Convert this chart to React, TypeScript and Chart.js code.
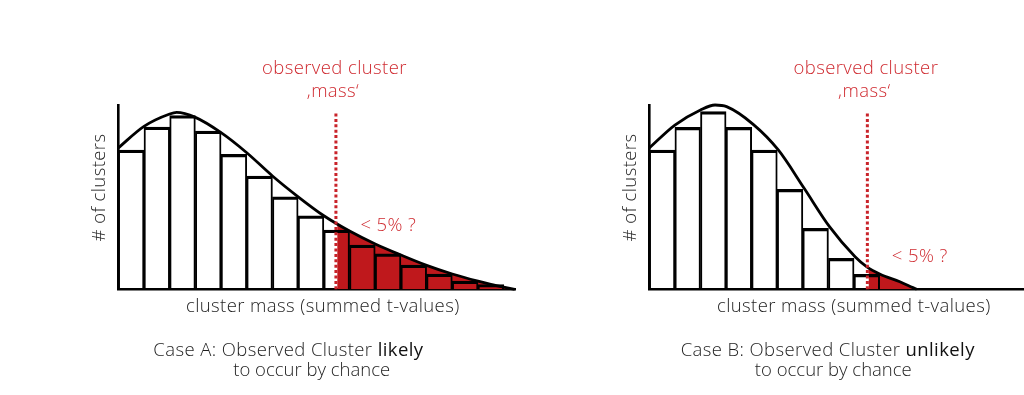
import React, { useEffect, useRef } from 'react';
import { Chart, registerables } from 'chart.js';

Chart.register(...registerables);

// ---------- Data ----------
// Panel A – histogram bar heights (bins of width 1, starting at 0)
const barsA = [75.6, 88.0, 94.2, 85.9, 73.3, 61.5, 50.2, 39.9, 32.2, 24.0, 19.2, 13.2, 8.3, 4.5, 2.5];
// Panel A – smooth density curve
const curveAX = [0, 1, 2, 2.27, 3, 4, 5, 6, 7, 8, 9, 10, 11, 12, 13, 14, 14.5, 15, 15.43];
const curveAY = [76.7, 88.4, 95.1, 96.0, 93.3, 85.0, 74.1, 61.5, 50.2, 39.9, 31.6, 24.6, 18.6, 13.0, 8.3, 4.4, 2.7, 1.2, 0];
const thresholdA = 8.47;

// Panel B
const barsB = [75.6, 87.9, 96.4, 87.9, 75.6, 54.3, 33.1, 16.8, 8.1];
const curveBX = [0, 1, 2, 2.57, 3.02, 4.06, 5.04, 6.05, 7.04, 8.04, 8.5, 9.02, 9.79, 10.3, 10.45];
const curveBY = [76.7, 89.1, 97.3, 100, 99.1, 89.5, 75.6, 54.8, 34.0, 17.7, 12.2, 8.2, 4.1, 0.9, 0];
const thresholdB = 8.52;

const thresholdTop = 96.4;

// Texts
const yTitle = '# of clusters';
const xTitle = 'cluster mass (summed t-values)';
const obsLine1 = 'observed cluster';
const obsLine2 = '\u201Amass\u2018';
const pctLabel = '< 5% ?';
const captionA = ['Case A: Observed Cluster ', 'likely', 'to occur by chance'];
const captionB = ['Case B: Observed Cluster ', 'unlikely', 'to occur by chance'];

// ---------- Styles ----------
const FONT = '"Open Sans", "Helvetica Neue", "Liberation Sans", sans-serif';
const FS = 18.5;
const LS = '0.4px';
const RED_FILL = '#bf181c';
const RED_DOT = '#c9232a';
const RED_TEXT = '#cf2a30';
const TEXT = '#1e1e1e';

type PanelCfg = {
  left: number;
  width: number;
  padRight: number;
  xMax: number;
  bars: number[];
  cx: number[];
  cy: number[];
  threshold: number;
  pctBaseline: number;
  caption: string[];
  cap1X: number;
  cap2Center: number;
};

const panels: PanelCfg[] = [
  {
    left: 0, width: 531, padRight: 16, xMax: 15.44,
    bars: barsA, cx: curveAX, cy: curveAY, threshold: thresholdA,
    pctBaseline: 230.5, caption: captionA, cap1X: 153.3, cap2Center: 311.7,
  },
  {
    left: 531, width: 493, padRight: 0, xMax: 14.64,
    bars: barsB, cx: curveBX, cy: curveBY, threshold: thresholdB,
    pctBaseline: 261.7, caption: captionB, cap1X: 149.7, cap2Center: 302.3,
  },
];

function setFont(ctx: CanvasRenderingContext2D, size: number, weight: number, ls: string = LS) {
  ctx.font = `${weight} ${size}px ${FONT}`;
  (ctx as any).letterSpacing = ls;
}

function makePlugin(cfg: PanelCfg) {
  return {
    id: 'panelDecor',
    beforeDatasetsDraw(chart: any) {
      const meta = chart.getDatasetMeta(1);
      const line = meta && meta.dataset;
      if (!line) return;
      const ctx: CanvasRenderingContext2D = chart.ctx;
      const xs = chart.scales.x;
      const ys = chart.scales.y;
      line.updateControlPoints(chart.chartArea, 'x');
      const thrPx = xs.getPixelForValue(cfg.threshold);
      const base = ys.getPixelForValue(0);
      ctx.save();
      ctx.beginPath();
      ctx.rect(thrPx + 1.4, 0, chart.width, base);
      ctx.clip();
      ctx.beginPath();
      line.path(ctx);
      const pts = line.points;
      ctx.lineTo(pts[pts.length - 1].x, base);
      ctx.lineTo(pts[0].x, base);
      ctx.closePath();
      ctx.fillStyle = RED_FILL;
      ctx.fill();
      ctx.restore();
    },
    afterDraw(chart: any) {
      const ctx: CanvasRenderingContext2D = chart.ctx;
      const xs = chart.scales.x;
      const area = chart.chartArea;
      const thrPx = xs.getPixelForValue(cfg.threshold);
      ctx.save();
      ctx.textBaseline = 'alphabetic';

      // red annotation
      setFont(ctx, FS, 300);
      ctx.fillStyle = RED_TEXT;
      ctx.textAlign = 'center';
      ctx.fillText(obsLine1, thrPx - 1.5, 74);
      ctx.fillText(obsLine2, thrPx - 3, 96.5);
      ctx.textAlign = 'left';
      ctx.fillText(pctLabel, thrPx + 24.5, cfg.pctBaseline);

      // axis titles
      ctx.fillStyle = TEXT;
      ctx.textAlign = 'center';
      ctx.fillText(xTitle, area.left + 204.5, 312);
      ctx.save();
      ctx.translate(area.left - 13.5, 187.5);
      ctx.rotate(-Math.PI / 2);
      ctx.fillText(yTitle, 0, 0);
      ctx.restore();

      // caption
      ctx.textAlign = 'left';
      setFont(ctx, FS, 300);
      ctx.fillText(cfg.caption[0], cfg.cap1X, 356);
      const w = ctx.measureText(cfg.caption[0]).width;
      setFont(ctx, FS, 400);
      ctx.fillStyle = '#111';
      ctx.fillText(cfg.caption[1], cfg.cap1X + w, 356);
      setFont(ctx, FS, 300, '0px');
      ctx.fillStyle = TEXT;
      ctx.textAlign = 'center';
      ctx.fillText(cfg.caption[2], cfg.cap2Center, 375.5);
      ctx.restore();
    },
  };
}

function Panel({ cfg }: { cfg: PanelCfg }) {
  const ref = useRef<HTMLCanvasElement>(null);
  useEffect(() => {
    const canvas = ref.current;
    if (!canvas) return;
    const axis = (min: number, max: number) => ({
      type: 'linear' as const,
      min,
      max,
      offset: false,
      display: true,
      grid: { display: false, drawTicks: false },
      ticks: { display: false },
      border: { display: true, color: '#000', width: 2.6 },
    });
    const chart = new Chart(canvas, {
      type: 'bar',
      data: {
        datasets: [
          {
            type: 'line',
            data: [{ x: cfg.threshold, y: 0 }, { x: cfg.threshold, y: thresholdTop }],
            borderColor: RED_DOT,
            borderWidth: 3,
            borderDash: [3, 2.4],
            borderCapStyle: 'butt',
            pointRadius: 0,
            clip: false,
            order: 0,
          } as any,
          {
            type: 'line',
            data: cfg.cx.map((x, i) => ({ x, y: cfg.cy[i] })),
            borderColor: '#000',
            borderWidth: 2.8,
            cubicInterpolationMode: 'monotone',
            pointRadius: 0,
            fill: false,
            clip: false,
            order: 1,
          } as any,
          {
            type: 'bar',
            data: cfg.bars.map((y, i) => ({ x: i + 0.5, y })),
            backgroundColor: 'rgba(0,0,0,0)',
            borderColor: '#000',
            borderWidth: { top: 2.6, left: 1.3, right: 1.3, bottom: 0 },
            borderSkipped: false,
            barPercentage: 1,
            categoryPercentage: 1,
            order: 2,
          } as any,
        ],
      },
      options: {
        responsive: false,
        animation: false,
        devicePixelRatio: 1,
        events: [],
        layout: { padding: { left: 118.3, top: 105, right: cfg.padRight, bottom: 105.7 } },
        plugins: { legend: { display: false }, tooltip: { enabled: false }, title: { display: false } },
        scales: { x: axis(0, cfg.xMax), y: axis(0, 100) as any },
      } as any,
      plugins: [makePlugin(cfg)],
    });
    return () => chart.destroy();
  }, [cfg]);
  return (
    <canvas
      ref={ref}
      width={cfg.width}
      height={395}
      style={{ position: 'absolute', left: cfg.left, top: 0, width: cfg.width, height: 395 }}
    />
  );
}

export default function App() {
  return (
    <div style={{ position: 'fixed', left: 0, top: 0, width: 1024, height: 395, background: '#fff', overflow: 'hidden' }}>
      {panels.map((p, i) => (
        <Panel key={i} cfg={p} />
      ))}
    </div>
  );
}
